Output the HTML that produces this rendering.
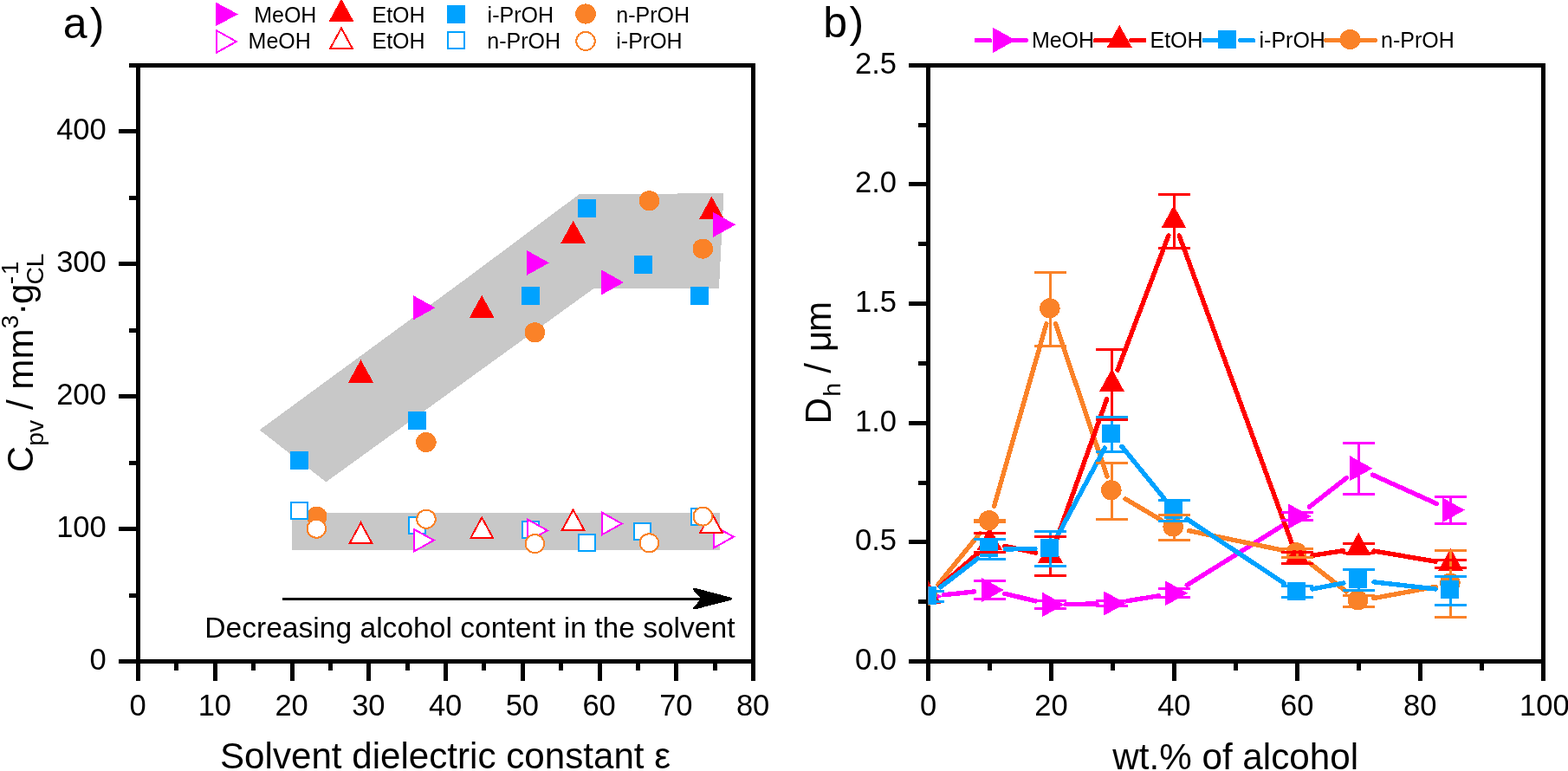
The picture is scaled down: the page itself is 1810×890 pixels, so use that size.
<!DOCTYPE html>
<html lang="en">
<head>
<meta charset="utf-8">
<title>Figure: pore volume vs solvent dielectric constant; hydrodynamic diameter vs alcohol content</title>
<style>
html,body{margin:0;padding:0;background:#fff;}
body{width:1810px;height:890px;overflow:hidden;}
svg{display:block;}
svg text{font-family:"Liberation Sans",Arial,Helvetica,sans-serif;fill:#000;}
</style>
</head>
<body>
<svg width="1810" height="890" viewBox="0 0 1810 890" shape-rendering="crispEdges" role="img" aria-label="Two-panel figure: (a) pore volume versus solvent dielectric constant, (b) hydrodynamic diameter versus wt.% of alcohol">
<rect x="0" y="0" width="1810" height="890" fill="#fff"/>
<g id="chart-a">
<polygon points="299.7,496.3 540.5,319.9 668.4,224.4 835.5,223.1 830,332.5 685.7,332.8 376.3,556.4" fill="#C8C8C8"/>
<rect x="336.6" y="592.2" width="494.4" height="42.8" fill="#C8C8C8"/>
<polygon points="416.5,415.2 431,441.6 402,441.6" fill="#FF0000"/>
<polygon points="556.2,340.7 570.7,367.1 541.7,367.1" fill="#FF0000"/>
<polygon points="661.7,254.6 676.2,281 647.2,281" fill="#FF0000"/>
<polygon points="821.5,226.7 836,253.1 807,253.1" fill="#FF0000"/>
<polygon points="476.6,340.8 502.5,355.2 476.6,369.6" fill="#FF00FF"/>
<polygon points="608.1,289 634,303.4 608.1,317.8" fill="#FF00FF"/>
<polygon points="694.3,311.6 720.2,326 694.3,340.4" fill="#FF00FF"/>
<polygon points="823.3,245 849.2,259.4 823.3,273.8" fill="#FF00FF"/>
<rect x="335" y="520.9" width="21" height="21" fill="#00A2FF"/>
<rect x="470.6" y="474.9" width="21" height="21" fill="#00A2FF"/>
<rect x="602.1" y="331.3" width="21" height="21" fill="#00A2FF"/>
<rect x="666.6" y="229.6" width="21" height="21" fill="#00A2FF"/>
<rect x="731.5" y="295" width="21" height="21" fill="#00A2FF"/>
<rect x="797.1" y="331.4" width="21" height="21" fill="#00A2FF"/>
<ellipse cx="365.7" cy="596.1" rx="11.8" ry="11.55" fill="#FA8228"/>
<ellipse cx="491.9" cy="510.5" rx="11.8" ry="11.55" fill="#FA8228"/>
<ellipse cx="617.4" cy="383.7" rx="11.8" ry="11.55" fill="#FA8228"/>
<ellipse cx="749.5" cy="231.7" rx="11.8" ry="11.55" fill="#FA8228"/>
<ellipse cx="811.3" cy="287.1" rx="11.8" ry="11.55" fill="#FA8228"/>
<rect x="336" y="580" width="19" height="19" fill="#fff" stroke="#00A2FF" stroke-width="2.0"/>
<rect x="472" y="597" width="19" height="19" fill="#fff" stroke="#00A2FF" stroke-width="2.0"/>
<rect x="603" y="602" width="19" height="19" fill="#fff" stroke="#00A2FF" stroke-width="2.0"/>
<rect x="668" y="617" width="19" height="19" fill="#fff" stroke="#00A2FF" stroke-width="2.0"/>
<rect x="732" y="604" width="19" height="19" fill="#fff" stroke="#00A2FF" stroke-width="2.0"/>
<rect x="798" y="587" width="19" height="19" fill="#fff" stroke="#00A2FF" stroke-width="2.0"/>
<polygon points="478,611 500.84,623.7 478,636.4" fill="#fff" stroke="#FF00FF" stroke-width="2.0" stroke-linejoin="miter"/>
<polygon points="609,599.6 631.84,612.3 609,625" fill="#fff" stroke="#FF00FF" stroke-width="2.0" stroke-linejoin="miter"/>
<polygon points="695,591.8 717.84,604.5 695,617.2" fill="#fff" stroke="#FF00FF" stroke-width="2.0" stroke-linejoin="miter"/>
<polygon points="824,607 846.84,619.7 824,632.4" fill="#fff" stroke="#FF00FF" stroke-width="2.0" stroke-linejoin="miter"/>
<polygon points="416.5,603.49 429.32,627 403.68,627" fill="#fff" stroke="#FF0000" stroke-width="2.0" stroke-linejoin="miter"/>
<polygon points="556.2,597.49 569.02,621 543.38,621" fill="#fff" stroke="#FF0000" stroke-width="2.0" stroke-linejoin="miter"/>
<polygon points="661.6,588.49 674.42,612 648.78,612" fill="#fff" stroke="#FF0000" stroke-width="2.0" stroke-linejoin="miter"/>
<polygon points="821.1,591.49 833.92,615 808.28,615" fill="#fff" stroke="#FF0000" stroke-width="2.0" stroke-linejoin="miter"/>
<ellipse cx="365.3" cy="610.2" rx="10.8" ry="10.55" fill="#fff" stroke="#FA8228" stroke-width="2.0"/>
<ellipse cx="492" cy="599.3" rx="10.8" ry="10.55" fill="#fff" stroke="#FA8228" stroke-width="2.0"/>
<ellipse cx="617.4" cy="627.6" rx="10.8" ry="10.55" fill="#fff" stroke="#FA8228" stroke-width="2.0"/>
<ellipse cx="749.4" cy="626.8" rx="10.8" ry="10.55" fill="#fff" stroke="#FA8228" stroke-width="2.0"/>
<ellipse cx="811.3" cy="596.1" rx="10.8" ry="10.55" fill="#fff" stroke="#FA8228" stroke-width="2.0"/>
<line x1="326" y1="691.5" x2="815" y2="691.5" stroke="#000" stroke-width="3"/>
<polygon points="843.3,691.2 801.6,680.3 811.8,691.2 801.6,701.9" fill="#000" stroke="#000" stroke-width="3.2" stroke-linejoin="round"/>
<text x="236.3" y="736.4" font-size="33.6" text-anchor="start" >Decreasing alcohol content in the solvent</text>
<g stroke="#000" stroke-width="5.0" fill="none" stroke-linecap="butt" shape-rendering="crispEdges">
<path d="M159.5,75.2 V785.6 M869.5,72.7 V785.6 M148.6,75.2 H869.5 M137.3,763.6 H869.5"/>
<path d="M248.25,763.6 V785.6 M337,763.6 V785.6 M425.75,763.6 V785.6 M514.5,763.6 V785.6 M603.25,763.6 V785.6 M692,763.6 V785.6 M780.75,763.6 V785.6 M203.88,763.6 V774.1 M292.62,763.6 V774.1 M381.38,763.6 V774.1 M470.12,763.6 V774.1 M558.88,763.6 V774.1 M647.62,763.6 V774.1 M736.38,763.6 V774.1 M825.12,763.6 V774.1 M137.3,610.62 H159.5 M137.3,457.64 H159.5 M137.3,304.67 H159.5 M137.3,151.69 H159.5 M148.6,687.11 H159.5 M148.6,534.13 H159.5 M148.6,381.16 H159.5 M148.6,228.18 H159.5"/>
</g>
<text x="159.1" y="826.2" font-size="34.5" text-anchor="middle" >0</text>
<text x="247.85" y="826.2" font-size="34.5" text-anchor="middle" >10</text>
<text x="336.6" y="826.2" font-size="34.5" text-anchor="middle" >20</text>
<text x="425.35" y="826.2" font-size="34.5" text-anchor="middle" >30</text>
<text x="514.1" y="826.2" font-size="34.5" text-anchor="middle" >40</text>
<text x="602.85" y="826.2" font-size="34.5" text-anchor="middle" >50</text>
<text x="691.6" y="826.2" font-size="34.5" text-anchor="middle" >60</text>
<text x="780.35" y="826.2" font-size="34.5" text-anchor="middle" >70</text>
<text x="869.1" y="826.2" font-size="34.5" text-anchor="middle" >80</text>
<text x="122.7" y="772.7" font-size="34.5" text-anchor="end" >0</text>
<text x="122.7" y="619.72" font-size="34.5" text-anchor="end" >100</text>
<text x="122.7" y="466.74" font-size="34.5" text-anchor="end" >200</text>
<text x="122.7" y="313.77" font-size="34.5" text-anchor="end" >300</text>
<text x="122.7" y="160.79" font-size="34.5" text-anchor="end" >400</text>
<text x="254" y="887.3" font-size="42.15" text-anchor="start" >Solvent dielectric constant ε</text>
<text transform="translate(38.3,545.2) rotate(-90)" font-size="42.2">C<tspan font-size="28.3" dy="11.2">pv</tspan><tspan dy="-11.2"> / mm</tspan><tspan font-size="28.3" dy="-17.2">3</tspan><tspan dy="17.2">·</tspan><tspan dx="-1.5">g</tspan><tspan font-size="28.3" dy="11.2" dx="-1">CL</tspan></text>
<text transform="translate(21.1,328.2) rotate(-90)" font-size="28.3">-<tspan dx="1.6">1</tspan></text>
<text x="72.8" y="44" font-size="50" text-anchor="start" >a<tspan dx="3.2">)</tspan></text>
<polygon points="248.9,2.5 274.8,16.4 248.9,30.3" fill="#FF00FF"/>
<polygon points="250,35.3 272.84,48 250,60.7" fill="#fff" stroke="#FF00FF" stroke-width="2.0" stroke-linejoin="miter"/>
<polygon points="394,-1.4 408.5,25 379.5,25" fill="#FF0000"/>
<polygon points="394,32.49 406.82,56 381.18,56" fill="#fff" stroke="#FF0000" stroke-width="2.0" stroke-linejoin="miter"/>
<rect x="515.8" y="6.1" width="21" height="21" fill="#00A2FF"/>
<rect x="517" y="37" width="19" height="19" fill="#fff" stroke="#00A2FF" stroke-width="2.0"/>
<ellipse cx="676" cy="16" rx="11.8" ry="11.55" fill="#FA8228"/>
<ellipse cx="676" cy="47.5" rx="10.8" ry="10.55" fill="#fff" stroke="#FA8228" stroke-width="2.0"/>
<text x="293.2" y="26" font-size="25" text-anchor="start" >MeOH</text>
<text x="286.6" y="56" font-size="25" text-anchor="start" >MeOH</text>
<text x="429.5" y="26" font-size="25" text-anchor="start" >EtOH</text>
<text x="429.5" y="56" font-size="25" text-anchor="start" >EtOH</text>
<text x="562.6" y="26" font-size="25" text-anchor="start" >i-PrOH</text>
<text x="562.3" y="56" font-size="25" text-anchor="start" >n-PrOH</text>
<text x="711.3" y="26" font-size="25" text-anchor="start" >n-PrOH</text>
<text x="711.3" y="56" font-size="25" text-anchor="start" >i-PrOH</text>
</g>
<defs><clipPath id="clipb"><rect x="1071.4" y="60" width="720" height="720"/></clipPath></defs>
<g id="chart-b">
<g stroke="#000" stroke-width="5.0" fill="none" shape-rendering="crispEdges">
<path d="M1071.8,75.2 V785.6 M1781.4,72.7 V785.6 M1049.2,75.2 H1781.4 M1049.2,763.6 H1781.4"/>
<path d="M1213.72,763.6 V785.6 M1355.64,763.6 V785.6 M1497.56,763.6 V785.6 M1639.48,763.6 V785.6 M1142.76,763.6 V774.1 M1284.68,763.6 V774.1 M1426.6,763.6 V774.1 M1568.52,763.6 V774.1 M1710.44,763.6 V774.1 M1049.2,625.92 H1071.8 M1049.2,488.24 H1071.8 M1049.2,350.56 H1071.8 M1049.2,212.88 H1071.8 M1059.9,694.76 H1071.8 M1059.9,557.08 H1071.8 M1059.9,419.4 H1071.8 M1059.9,281.72 H1071.8 M1059.9,144.04 H1071.8"/>
</g>
<g clip-path="url(#clipb)">
<path d="M1089.3,686.73 L1124.86,682.97 M1159.87,685.27 L1195.41,693.83 M1230.52,697.65 L1265.88,696.95 M1301.25,693.72 L1337.57,687.78 M1370.24,675.47 L1482.26,605.53 M1511.4,585.16 L1554.28,551.74 M1584.55,548.12 L1658.53,581.48" stroke="#FF00FF" stroke-width="5.4" stroke-linecap="round" fill="none"/>
<polygon points="1061.7,674.1 1087.7,688.5 1061.7,702.9" fill="#FF00FF"/>
<polygon points="1132.66,666.6 1158.66,681 1132.66,695.4" fill="#FF00FF"/>
<polygon points="1202.82,683.5 1228.82,697.9 1202.82,712.3" fill="#FF00FF"/>
<polygon points="1273.78,682.1 1299.78,696.5 1273.78,710.9" fill="#FF00FF"/>
<polygon points="1345.24,670.4 1371.24,684.8 1345.24,699.2" fill="#FF00FF"/>
<polygon points="1487.46,581.6 1513.46,596 1487.46,610.4" fill="#FF00FF"/>
<polygon points="1558.42,526.3 1584.42,540.7 1558.42,555.1" fill="#FF00FF"/>
<polygon points="1664.86,574.3 1690.86,588.7 1664.86,603.1" fill="#FF00FF"/>
<path d="M1082.86,674.81 L1131.3,615.49 M1147.46,584.59 L1207.82,373.91 M1218.42,373.66 L1277.98,549.94 M1299.01,575.85 L1339.81,599.95 M1372.56,612.64 L1479.94,635.06 M1511.42,649.62 L1554.26,682.88 M1585.82,690.54 L1657.26,677.26" stroke="#FA8228" stroke-width="5.4" stroke-linecap="round" fill="none"/>
<ellipse cx="1070.7" cy="687.6" rx="11.8" ry="11.55" fill="#FA8228"/>
<ellipse cx="1141.66" cy="600.7" rx="11.8" ry="11.55" fill="#FA8228"/>
<ellipse cx="1211.82" cy="355.8" rx="11.8" ry="11.55" fill="#FA8228"/>
<ellipse cx="1282.78" cy="565.8" rx="11.8" ry="11.55" fill="#FA8228"/>
<ellipse cx="1354.24" cy="608" rx="11.8" ry="11.55" fill="#FA8228"/>
<ellipse cx="1496.46" cy="637.7" rx="11.8" ry="11.55" fill="#FA8228"/>
<ellipse cx="1567.42" cy="692.8" rx="11.8" ry="11.55" fill="#FA8228"/>
<ellipse cx="1673.86" cy="673" rx="11.8" ry="11.55" fill="#FA8228"/>
<path d="M1085,676.89 L1129.16,638.31 M1159.95,630.39 L1195.33,638.11 M1218.73,625.14 L1277.67,460.66 M1289.99,427.25 L1348.83,271.95 M1361.26,272.02 L1491.24,627.18 M1514.95,641.2 L1550.73,635.7 M1585.87,636 L1657.21,648.2" stroke="#FF0000" stroke-width="5.4" stroke-linecap="round" fill="none"/>
<polygon points="1071.4,670.3 1085.9,696.7 1056.9,696.7" fill="#FF0000"/>
<polygon points="1142.36,608.3 1156.86,634.7 1127.86,634.7" fill="#FF0000"/>
<polygon points="1212.52,623.6 1227.02,650 1198.02,650" fill="#FF0000"/>
<polygon points="1283.48,425.6 1297.98,452 1268.98,452" fill="#FF0000"/>
<polygon points="1354.94,237 1369.44,263.4 1340.44,263.4" fill="#FF0000"/>
<polygon points="1497.16,625.6 1511.66,652 1482.66,652" fill="#FF0000"/>
<polygon points="1568.12,614.7 1582.62,641.1 1553.62,641.1" fill="#FF0000"/>
<polygon points="1674.56,632.9 1689.06,659.3 1660.06,659.3" fill="#FF0000"/>
<ellipse cx="1141.66" cy="600.7" rx="11.8" ry="11.55" fill="#FA8228"/>
<path d="M1085.71,677.75 L1128.45,644.85 M1160.36,633.87 L1194.92,633.63 M1221.15,617.82 L1275.25,517.18 M1294.92,515.3 L1343.9,575.4 M1369.99,599.01 L1482.51,673.39 M1514.85,679.9 L1550.83,673.1 M1586,671.83 L1657.08,679.97" stroke="#00A2FF" stroke-width="5.4" stroke-linecap="round" fill="none"/>
<rect x="1060.2" y="677" width="21" height="21" fill="#00A2FF"/>
<rect x="1131.16" y="622.4" width="21" height="21" fill="#00A2FF"/>
<rect x="1201.32" y="621.9" width="21" height="21" fill="#00A2FF"/>
<rect x="1272.28" y="489.9" width="21" height="21" fill="#00A2FF"/>
<rect x="1343.74" y="577.6" width="21" height="21" fill="#00A2FF"/>
<rect x="1485.96" y="671.6" width="21" height="21" fill="#00A2FF"/>
<rect x="1556.92" y="658.2" width="21" height="21" fill="#00A2FF"/>
<rect x="1663.36" y="670.4" width="21" height="21" fill="#00A2FF"/>
<clipPath id="dome60"><rect x="1480" y="620" width="36" height="13"/></clipPath>
<g clip-path="url(#dome60)"><ellipse cx="1496.46" cy="637.7" rx="11.8" ry="11.55" fill="#FA8228"/></g>
<path d="M1071.5,682.5 V694.5 M1142.5,670.5 V691.5 M1212.5,693.5 V702.5 M1283.5,693.5 V699.5 M1355.5,679.5 V689.5 M1497.5,591.5 V600.5 M1568.5,511.5 V570.5 M1674.5,573.5 V604.5" stroke="#FF00FF" stroke-width="3.0" stroke-linecap="butt" fill="none" shape-rendering="crispEdges"/>
<path d="M1071.5,682.5 V694.5 M1142.5,615.5 V637.5 M1212.5,619.5 V664.5 M1283.5,403.5 V484.5 M1355.5,224.5 V286.5 M1497.5,637.5 V650.5 M1568.5,627.5 V638.5 M1674.5,646.5 V655.5" stroke="#FF0000" stroke-width="3.0" stroke-linecap="butt" fill="none" shape-rendering="crispEdges"/>
<path d="M1071.5,682.5 V694.5 M1142.5,600.5 V602.5 M1212.5,314.5 V399.5 M1283.5,534.5 V599.5 M1355.5,594.5 V623.5 M1497.5,633.5 V643.5 M1568.5,687.5 V700.5 M1674.5,635.5 V712.5" stroke="#FA8228" stroke-width="3.0" stroke-linecap="butt" fill="none" shape-rendering="crispEdges"/>
<path d="M1071.5,682.5 V694.5 M1142.5,622.5 V645.5 M1212.5,613.5 V653.5 M1283.5,481.5 V521.5 M1355.5,577.5 V601.5 M1497.5,676.5 V689.5 M1568.5,657.5 V681.5 M1674.5,665.5 V698.5" stroke="#00A2FF" stroke-width="3.0" stroke-linecap="butt" fill="none" shape-rendering="crispEdges"/>
<path d="M1053.3,682.5 H1089.7 M1053.3,694.5 H1089.7 M1124.3,670.5 H1160.7 M1124.3,691.5 H1160.7 M1194.3,693.5 H1230.7 M1194.3,702.5 H1230.7 M1265.3,693.5 H1301.7 M1265.3,699.5 H1301.7 M1337.3,679.5 H1373.7 M1337.3,689.5 H1373.7 M1479.3,591.5 H1515.7 M1479.3,600.5 H1515.7 M1550.3,511.5 H1586.7 M1550.3,570.5 H1586.7 M1656.3,573.5 H1692.7 M1656.3,604.5 H1692.7" stroke="#FF00FF" stroke-width="3.0" stroke-linecap="butt" fill="none" shape-rendering="crispEdges"/>
<path d="M1053.3,682.5 H1089.7 M1053.3,694.5 H1089.7 M1124.3,615.5 H1160.7 M1124.3,637.5 H1160.7 M1194.3,619.5 H1230.7 M1194.3,664.5 H1230.7 M1265.3,403.5 H1301.7 M1265.3,484.5 H1301.7 M1337.3,224.5 H1373.7 M1337.3,286.5 H1373.7 M1479.3,637.5 H1515.7 M1479.3,650.5 H1515.7 M1550.3,627.5 H1586.7 M1550.3,638.5 H1586.7 M1656.3,646.5 H1692.7 M1656.3,655.5 H1692.7" stroke="#FF0000" stroke-width="3.0" stroke-linecap="butt" fill="none" shape-rendering="crispEdges"/>
<path d="M1053.3,682.5 H1089.7 M1053.3,694.5 H1089.7 M1124.3,600.5 H1160.7 M1124.3,602.5 H1160.7 M1194.3,314.5 H1230.7 M1194.3,399.5 H1230.7 M1265.3,534.5 H1301.7 M1265.3,599.5 H1301.7 M1337.3,594.5 H1373.7 M1337.3,623.5 H1373.7 M1479.3,633.5 H1515.7 M1479.3,643.5 H1515.7 M1550.3,687.5 H1586.7 M1550.3,700.5 H1586.7 M1656.3,635.5 H1692.7 M1656.3,712.5 H1692.7" stroke="#FA8228" stroke-width="3.0" stroke-linecap="butt" fill="none" shape-rendering="crispEdges"/>
<path d="M1053.3,682.5 H1089.7 M1053.3,694.5 H1089.7 M1124.3,622.5 H1160.7 M1124.3,645.5 H1160.7 M1194.3,613.5 H1230.7 M1194.3,653.5 H1230.7 M1265.3,481.5 H1301.7 M1265.3,521.5 H1301.7 M1337.3,577.5 H1373.7 M1337.3,601.5 H1373.7 M1479.3,676.5 H1515.7 M1479.3,689.5 H1515.7 M1550.3,657.5 H1586.7 M1550.3,681.5 H1586.7 M1656.3,665.5 H1692.7 M1656.3,698.5 H1692.7" stroke="#00A2FF" stroke-width="3.0" stroke-linecap="butt" fill="none" shape-rendering="crispEdges"/>
</g>
<text x="1071.5" y="826.2" font-size="34.5" text-anchor="middle" >0</text>
<text x="1213.42" y="826.2" font-size="34.5" text-anchor="middle" >20</text>
<text x="1355.34" y="826.2" font-size="34.5" text-anchor="middle" >40</text>
<text x="1497.26" y="826.2" font-size="34.5" text-anchor="middle" >60</text>
<text x="1639.18" y="826.2" font-size="34.5" text-anchor="middle" >80</text>
<text x="1782.9" y="826.2" font-size="34.5" text-anchor="middle" >100</text>
<text x="1035" y="772.9" font-size="34.5" text-anchor="end" >0.0</text>
<text x="1035" y="635.22" font-size="34.5" text-anchor="end" >0.5</text>
<text x="1035" y="497.54" font-size="34.5" text-anchor="end" >1.0</text>
<text x="1035" y="359.86" font-size="34.5" text-anchor="end" >1.5</text>
<text x="1035" y="222.18" font-size="34.5" text-anchor="end" >2.0</text>
<text x="1035" y="84.5" font-size="34.5" text-anchor="end" >2.5</text>
<text x="1284.3" y="887.8" font-size="42.2" text-anchor="start" >wt.% of alcohol</text>
<text transform="translate(958.8,489.6) rotate(-90)" font-size="42.2">D<tspan font-size="28.3" dy="11.2" dx="1.5">h</tspan><tspan dy="-11.2" dx="-0.5"> / </tspan><tspan dx="1.3">μ</tspan><tspan dx="-1.3">m</tspan></text>
<text x="950.2" y="43.4" font-size="50" text-anchor="start" >b<tspan dx="2.6">)</tspan></text>
<path d="M1127.2,46.6 H1142.5" stroke="#FF00FF" stroke-width="5.4" stroke-linecap="round" fill="none"/>
<path d="M1160.7,46.6 H1184.3" stroke="#FF00FF" stroke-width="5.4" stroke-linecap="round" fill="none"/>
<polygon points="1146.4,32 1172.4,46.4 1146.4,60.8" fill="#FF00FF"/>
<path d="M1264.5,46.6 H1287.3" stroke="#FF0000" stroke-width="5.4" stroke-linecap="round" fill="none"/>
<path d="M1306,46.6 H1320.8" stroke="#FF0000" stroke-width="5.4" stroke-linecap="round" fill="none"/>
<polygon points="1292.2,28.8 1306.7,54.8 1277.7,54.8" fill="#FF0000"/>
<path d="M1390.2,46.6 H1409.3" stroke="#00A2FF" stroke-width="5.4" stroke-linecap="round" fill="none"/>
<path d="M1432,46.6 H1446.5" stroke="#00A2FF" stroke-width="5.4" stroke-linecap="round" fill="none"/>
<rect x="1406.1" y="34.9" width="21" height="21" fill="#00A2FF"/>
<path d="M1531,46.6 H1557.3" stroke="#FA8228" stroke-width="5.4" stroke-linecap="round" fill="none"/>
<path d="M1558.7,46.6 H1587.2" stroke="#FA8228" stroke-width="5.4" stroke-linecap="round" fill="none"/>
<ellipse cx="1558.5" cy="45.5" rx="11.8" ry="11.55" fill="#FA8228"/>
<text x="1190.9" y="55" font-size="25" text-anchor="start" >MeOH</text>
<text x="1327.5" y="55" font-size="25" text-anchor="start" >EtOH</text>
<text x="1453.5" y="55" font-size="25" text-anchor="start" >i-PrOH</text>
<text x="1594" y="55" font-size="25" text-anchor="start" >n-PrOH</text>
</g>
</svg>
</body>
</html>
